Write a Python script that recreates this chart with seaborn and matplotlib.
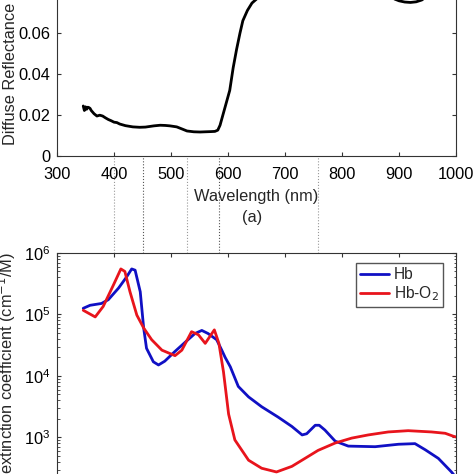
import matplotlib
matplotlib.use("Agg")
import matplotlib.pyplot as plt
import matplotlib.transforms as mtransforms
from matplotlib.lines import Line2D
from matplotlib.ticker import LogLocator, NullFormatter
import numpy as np
import pandas as pd
import seaborn as sns

# diffuse reflectance spectrum (top panel)
refl_wl = [346, 348, 350, 352, 354, 356, 358, 360, 365, 370, 375, 380, 385, 390,
           395, 400, 405, 410, 420, 433, 445, 455, 470, 481, 490, 498, 510, 520,
           528, 540, 551, 560, 570, 577, 582, 586, 590, 594, 598, 603, 609, 615,
           621, 626, 634, 642, 660, 700, 800, 860, 880, 890, 900, 910, 920, 930,
           940, 950, 970, 1000]
refl = [0.0244, 0.0222, 0.0240, 0.0228, 0.0238, 0.0236, 0.0232, 0.0222, 0.0206,
        0.0195, 0.0199, 0.0195, 0.0186, 0.0178, 0.0172, 0.0165, 0.0163, 0.0156,
        0.0148, 0.0142, 0.0140, 0.0141, 0.0147, 0.0150, 0.0149, 0.0147, 0.0142,
        0.0131, 0.0122, 0.0118, 0.0117, 0.0118, 0.0119, 0.0120, 0.0126, 0.0150,
        0.0190, 0.0230, 0.0270, 0.0320, 0.0430, 0.0520, 0.0600, 0.0660, 0.0710,
        0.0746, 0.0790, 0.0820, 0.0830, 0.0810, 0.0790, 0.0768, 0.0757, 0.0751,
        0.0749, 0.0752, 0.0761, 0.0782, 0.0800, 0.0815]

# molar extinction coefficients (bottom panel)
hb_wl = [346, 358, 378, 390, 408, 422, 431, 437, 446, 452, 457, 469, 478, 489,
         507, 525, 542, 554, 565, 580, 589, 595, 604, 618, 636, 659, 688, 712,
         730, 738, 753, 760, 770, 788, 811, 858, 899, 928, 946, 969, 992, 1000]
hb = [1.26e5, 1.41e5, 1.51e5, 1.74e5, 2.69e5, 4.07e5, 5.50e5, 5.25e5, 2.34e5,
      6.03e4, 2.82e4, 1.70e4, 1.51e4, 1.74e4, 2.51e4, 3.55e4, 4.90e4, 5.50e4,
      4.90e4, 3.89e4, 2.63e4, 2.00e4, 1.41e4, 6.76e3, 4.57e3, 3.16e3, 2.14e3,
      1.51e3, 1.10e3, 1.15e3, 1.58e3, 1.58e3, 1.32e3, 8.71e2, 7.24e2, 7.08e2,
      7.76e2, 7.94e2, 6.31e2, 4.57e2, 2.75e2, 2.24e2]
hbo2_wl = [346, 367, 381, 399, 412, 419, 428, 440, 452, 466, 484, 507, 519, 536,
           548, 560, 576, 584, 592, 601, 612, 636, 659, 685, 712, 735, 758, 788,
           817, 846, 881, 916, 957, 981, 995, 1000]
hbo2 = [1.17e5, 9.12e4, 1.35e5, 3.02e5, 5.50e5, 5.01e5, 2.34e5, 9.77e4, 6.03e4,
        3.89e4, 2.63e4, 2.14e4, 2.63e4, 5.25e4, 4.68e4, 3.39e4, 5.62e4, 3.39e4,
        1.17e4, 2.40e3, 9.12e2, 4.27e2, 3.16e2, 2.75e2, 3.39e2, 4.57e2, 6.17e2,
        8.13e2, 9.77e2, 1.10e3, 1.23e3, 1.29e3, 1.23e3, 1.17e3, 1.05e3, 1.02e3]

# reference wavelengths marked by dotted lines
mark_wl = [400, 451, 528, 584, 758]
mark_dark = [False, True, False, True, False]

sns.set_style("ticks")
plt.rcParams['font.family'] = ['Liberation Sans', 'DejaVu Sans']
plt.rcParams['font.size'] = 11.8
plt.rcParams['xtick.direction'] = 'in'
plt.rcParams['ytick.direction'] = 'in'
plt.rcParams['axes.edgecolor'] = '#333333'
plt.rcParams['axes.linewidth'] = 0.8
plt.rcParams['xtick.color'] = '#333333'
plt.rcParams['ytick.color'] = '#333333'
plt.rcParams['xtick.labelcolor'] = 'black'
plt.rcParams['ytick.labelcolor'] = 'black'

fig = plt.figure(figsize=(4.74, 4.74), dpi=100)
ax1 = fig.add_axes([0.1203, 0.6709, 0.8418, 0.346])
ax2 = fig.add_axes([0.1203, -0.0527, 0.8418, 0.519])

df_r = pd.DataFrame({'wl': refl_wl, 'r': refl})
sns.lineplot(data=df_r, x='wl', y='r', ax=ax1, color='black', lw=2)
ax1.set_xlim(300, 1000)
ax1.set_ylim(0, 0.08)
ax1.set_xticks(range(300, 1001, 100))
ax1.set_yticks([0, 0.02, 0.04, 0.06])
ax1.set_yticklabels(['0', '0.02', '0.04', '0.06'])
ax1.tick_params(right=True, top=True, length=3, pad=5)
ax1.tick_params(axis='x', pad=8)
ax1.set_xlabel('Wavelength (nm)', labelpad=5)
ax1.set_ylabel('Diffuse Reflectance')
ax1.yaxis.set_label_coords(-0.098, 0.5)

df_hb = pd.DataFrame({'wl': hb_wl, 'eps': hb})
df_o2 = pd.DataFrame({'wl': hbo2_wl, 'eps': hbo2})
sns.lineplot(data=df_hb, x='wl', y='eps', ax=ax2, color='#1010c4', lw=2, label='Hb')
sns.lineplot(data=df_o2, x='wl', y='eps', ax=ax2, color='#e8141c', lw=2,
             label='Hb-O$_2$')
ax2.set_yscale('log')
ax2.set_xlim(300, 1000)
ax2.set_ylim(1e2, 1e6)
ax2.set_xticks(range(300, 1001, 100))
ax2.yaxis.set_major_locator(LogLocator(base=10, numticks=10))
ax2.yaxis.set_minor_locator(LogLocator(base=10, subs=np.arange(2, 10), numticks=20))
ax2.yaxis.set_minor_formatter(NullFormatter())
ax2.tick_params(which='both', right=True, top=True)
ax2.tick_params(which='major', length=3, pad=5)
ax2.tick_params(which='minor', length=1.8)
ax2.set_xlabel('')
ax2.set_ylabel('Molar extinction coefficient (cm$^{-1}$/M)')
ax2.yaxis.set_label_coords(-0.098, 0.46)
ax2.legend(loc='upper right', bbox_to_anchor=(0.967, 0.959), fancybox=False,
           edgecolor='#555555', framealpha=1, handlelength=1.9,
           borderpad=0.25, labelspacing=0.15, handletextpad=0.3,
           borderaxespad=0, fontsize=11.2)

fig.text(252 / 474, 1 - 217 / 474, '(a)', ha='center', va='center')

# dotted marker lines spanning both panels
trans = mtransforms.blended_transform_factory(ax1.transData, fig.transFigure)
for wl, dark in zip(mark_wl, mark_dark):
    fig.add_artist(Line2D([wl, wl], [0, 1], transform=trans, ls=':', lw=0.8,
                          color='#555555' if dark else '#999999', zorder=0))

fig.savefig('out.png', dpi=100)
